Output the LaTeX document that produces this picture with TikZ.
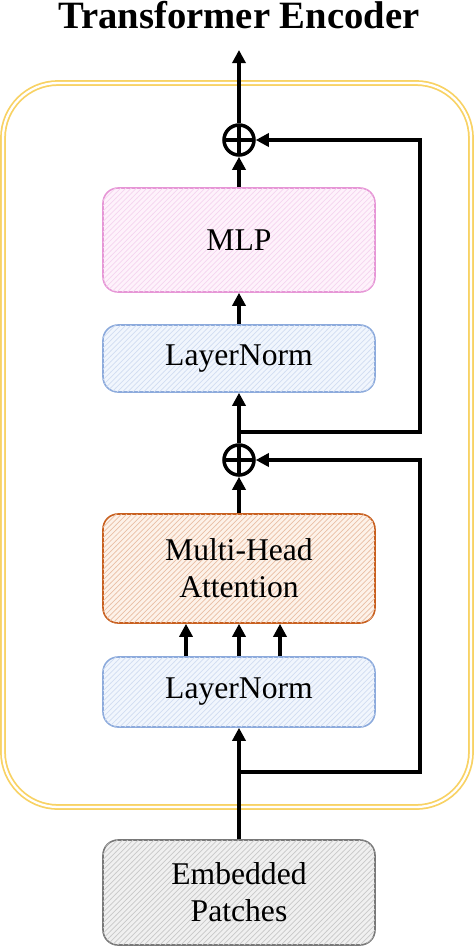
\documentclass[tikz,border=0pt]{standalone}
\usepackage{fontspec}
\setmainfont{Liberation Serif}
\usetikzlibrary{arrows.meta,patterns,positioning}

\definecolor{encline}{RGB}{248,210,100}
\definecolor{mlpline}{RGB}{230,150,214}
\definecolor{mlpfill}{RGB}{254,242,251}
\definecolor{lnline}{RGB}{140,170,220}
\definecolor{lnfill}{RGB}{241,246,253}
\definecolor{attline}{RGB}{200,95,30}
\definecolor{attfill}{RGB}{253,242,233}
\definecolor{embline}{RGB}{120,120,120}
\definecolor{embfill}{RGB}{240,240,240}

\begin{document}
\begin{tikzpicture}[
    blk/.style={draw, rounded corners=.3cm, minimum width=5.44cm, align=center,
      line width=.9pt, font=\fontsize{18}{21}\selectfont},
    hatched/.style 2 args={fill=#2, postaction={pattern=north east lines, pattern color=#1!40}},
    arr/.style={-{Triangle[length=.26cm,width=.26cm]}, line width=2pt},
    addnode/.style={circle, draw, line width=2pt, minimum size=.6cm, inner sep=0pt,
      path picture={\draw[line width=2pt]
        (path picture bounding box.north) -- (path picture bounding box.south)
        (path picture bounding box.west) -- (path picture bounding box.east);}}
  ]
  \useasboundingbox (-4.78,0) rectangle (4.70,-19.04);

  % encoder frame
  \node (enc) [draw=encline, double=white, double distance=1.3pt, line width=1pt,
    rounded corners=1.1cm, minimum width=9.36cm, minimum height=14.48cm] at (-0.04,-8.90) {};
  \node (title) [anchor=base, font=\fontsize{22}{26}\selectfont\bfseries] at (0,-0.57) {Transformer Encoder};

  % blocks
  \node (mlp) [blk, draw=mlpline, hatched={mlpline}{mlpfill}, minimum height=2.08cm] at (0,-4.80) {MLP};
  \node (ln2) [blk, draw=lnline, hatched={lnline}{lnfill}, minimum height=1.34cm] at (0,-7.17) {LayerNorm};
  \node (att) [blk, draw=attline, hatched={attline}{attfill}, minimum height=2.18cm] at (0,-11.37) {Multi-Head\\Attention};
  \node (ln1) [blk, draw=lnline, hatched={lnline}{lnfill}, minimum height=1.40cm] at (0,-13.84) {LayerNorm};
  \node (emb) [blk, draw=embline, hatched={embline}{embfill}, minimum height=2.10cm] at (0,-17.85) {Embedded\\Patches};

  \node (add1) [addnode] at (0,-9.20) {};
  \node (add2) [addnode] at (0,-2.80) {};

  \coordinate (out) at (0,-1.00);
  \coordinate (br1) at (0,-15.44);
  \coordinate (br2) at (0,-8.64);
  \coordinate (r1) at (3.62,-15.44);
  \coordinate (r2) at (3.62,-8.64);

  % main path
  \draw[arr] (emb.north) -- (ln1.south);
  \draw[arr] ([xshift=-1.06cm]ln1.north) -- ([xshift=-1.06cm]att.south);
  \draw[arr] (ln1.north) -- (att.south);
  \draw[arr] ([xshift=.82cm]ln1.north) -- ([xshift=.82cm]att.south);
  \draw[arr] (att.north) -- (add1.south);
  \draw[arr] (add1.north) -- (ln2.south);
  \draw[arr] (ln2.north) -- (mlp.south);
  \draw[arr] (mlp.north) -- (add2.south);
  \draw[arr] (add2.north) -- (out);

  % residual paths
  \draw[arr] (br1) -- (r1) |- (add1.east);
  \draw[arr] (br2) -- (r2) |- (add2.east);
\end{tikzpicture}
\end{document}
